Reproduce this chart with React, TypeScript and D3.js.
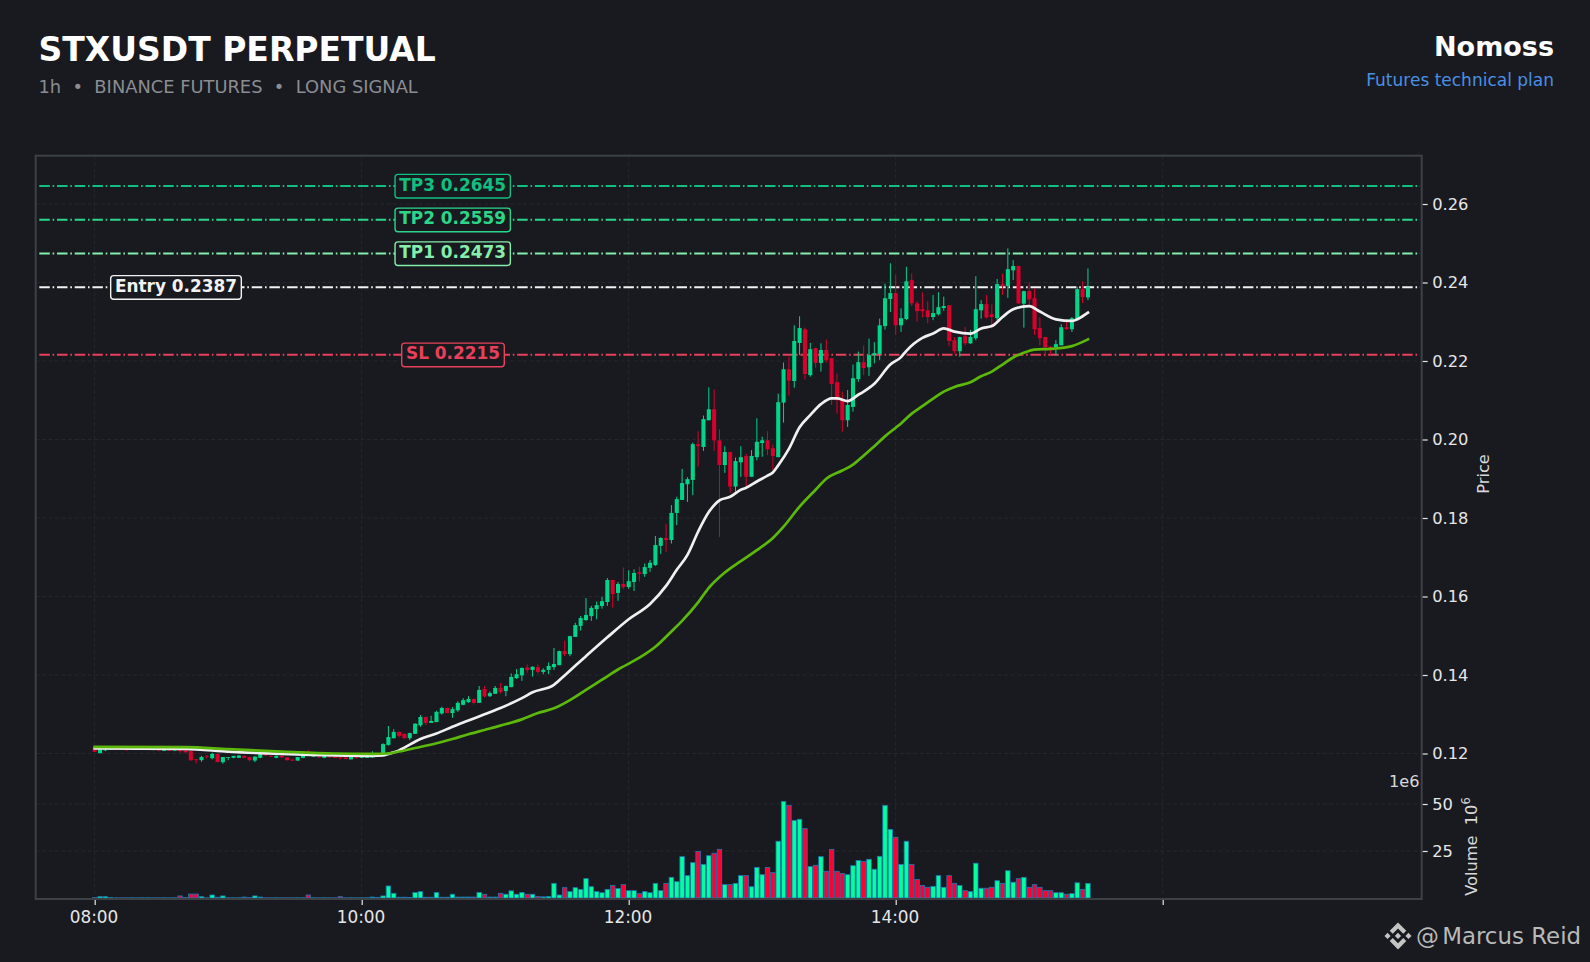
import React, { useEffect, useRef } from 'react';
import * as d3 from 'd3';

// OHLC, one entry per candle
const opens = [
  .1211,.1201,.1208,.1211,.1212,.1211,.1211,.1210,.1211,.1210,.1211,.1212,.1210,.1207,.1211,.1208,.1209,.1208,.1206,.1185,
  .1183,.1194,.1188,.1199,.1178,.1189,.1189,.1189,.1194,.1191,.1182,.1189,.1200,.1194,.1189,.1194,.1190,.1184,.1182,.1189,
  .1198,.1192,.1192,.1189,.1192,.1192,.1190,.1190,.1185,.1190,.1189,.1189,.1190,.1192,.1200,.1222,.1239,.1255,.1250,.1239,
  .1250,.1272,.1293,.1278,.1280,.1302,.1316,.1303,.1310,.1324,.1331,.1339,.1329,.1364,.1346,.1352,.1367,.1359,.1369,.1392,
  .1399,.1419,.1413,.1420,.1408,.1413,.1420,.1425,.1461,.1453,.1497,.1525,.1540,.1550,.1568,.1576,.1586,.1642,.1609,.1632,
  .1624,.1637,.1662,.1657,.1673,.1680,.1729,.1749,.1744,.1813,.1846,.1886,.1897,.1988,.1981,.2049,.2077,.1998,.1935,.1968,
  .1880,.1942,.1958,.1905,.1955,.1991,.1998,.1978,.1955,.2094,.2179,.2149,.2246,.2281,.2164,.2233,.2195,.2228,.2207,.2146,
  .2100,.2049,.2083,.2154,.2197,.2184,.2215,.2218,.2289,.2358,.2373,.2291,.2307,.2406,.2347,.2332,.2329,.2312,.2319,.2335,
  .2342,.2253,.2225,.2263,.2245,.2258,.2329,.2345,.2319,.2309,.2396,.2391,.2431,.2442,.2346,.2378,.2360,.2284,.2261,.2236,
  .2235,.2240,.2286,.2281,.2307,.2383,.2362,
];
const highs = [
  .1212,.1212,.1213,.1213,.1213,.1212,.1212,.1212,.1212,.1212,.1213,.1213,.1211,.1212,.1212,.1212,.1210,.1209,.1207,.1186,
  .1194,.1196,.1202,.1200,.1191,.1191,.1194,.1196,.1195,.1192,.1193,.1201,.1201,.1195,.1195,.1195,.1191,.1187,.1191,.1200,
  .1209,.1200,.1193,.1199,.1193,.1193,.1191,.1191,.1193,.1191,.1193,.1193,.1206,.1195,.1226,.1270,.1262,.1256,.1251,.1253,
  .1277,.1298,.1294,.1296,.1309,.1319,.1317,.1318,.1333,.1341,.1346,.1340,.1372,.1372,.1358,.1372,.1379,.1373,.1404,.1415,
  .1419,.1427,.1422,.1427,.1417,.1432,.1469,.1462,.1487,.1500,.1533,.1550,.1596,.1576,.1587,.1599,.1647,.1643,.1637,.1674,
  .1667,.1669,.1676,.1684,.1693,.1754,.1751,.1785,.1833,.1854,.1925,.1904,.1992,.2021,.2061,.2133,.2128,.2026,.1983,.1969,
  .1954,.1983,.1964,.1973,.2054,.2007,.2021,.1987,.2117,.2196,.2211,.2291,.2314,.2285,.2246,.2234,.2245,.2255,.2208,.2168,
  .2122,.2126,.2191,.2224,.2239,.2257,.2248,.2308,.2397,.2449,.2420,.2334,.2440,.2423,.2353,.2375,.2352,.2368,.2375,.2364,
  .2343,.2261,.2262,.2287,.2279,.2416,.2355,.2368,.2344,.2409,.2423,.2487,.2457,.2443,.2379,.2400,.2385,.2311,.2262,.2238,
  .2253,.2294,.2302,.2312,.2389,.2403,.2436,
];
const lows = [
  .1204,.1200,.1206,.1210,.1210,.1209,.1206,.1209,.1209,.1209,.1210,.1207,.1206,.1206,.1206,.1206,.1202,.1202,.1181,.1175,
  .1179,.1187,.1185,.1178,.1174,.1183,.1188,.1189,.1188,.1180,.1178,.1188,.1195,.1191,.1188,.1189,.1182,.1181,.1181,.1188,
  .1194,.1191,.1189,.1188,.1190,.1189,.1185,.1185,.1185,.1187,.1188,.1189,.1190,.1192,.1200,.1220,.1238,.1241,.1238,.1234,
  .1250,.1268,.1272,.1278,.1280,.1299,.1303,.1291,.1306,.1323,.1329,.1325,.1329,.1343,.1344,.1352,.1353,.1346,.1369,.1390,
  .1385,.1406,.1396,.1404,.1402,.1402,.1413,.1425,.1448,.1448,.1497,.1513,.1538,.1538,.1542,.1569,.1576,.1571,.1589,.1619,
  .1619,.1614,.1638,.1650,.1663,.1678,.1708,.1714,.1735,.1782,.1846,.1841,.1858,.1931,.1971,.2049,.1971,.1752,.1915,.1864,
  .1867,.1905,.1880,.1905,.1947,.1956,.1960,.1922,.1955,.2043,.2112,.2132,.2215,.2153,.2160,.2183,.2173,.2196,.2088,.2066,
  .2020,.2032,.2071,.2147,.2164,.2162,.2194,.2202,.2280,.2325,.2267,.2274,.2304,.2340,.2300,.2311,.2296,.2304,.2316,.2328,
  .2238,.2219,.2211,.2240,.2244,.2253,.2308,.2308,.2283,.2304,.2368,.2361,.2406,.2346,.2285,.2342,.2266,.2240,.2212,.2215,
  .2215,.2240,.2279,.2274,.2306,.2347,.2355,
];
const closes = [
  .1204,.1211,.1210,.1212,.1211,.1209,.1209,.1211,.1210,.1211,.1212,.1210,.1209,.1211,.1207,.1211,.1206,.1203,.1183,.1183,
  .1191,.1192,.1199,.1178,.1191,.1191,.1194,.1195,.1189,.1183,.1192,.1200,.1195,.1192,.1194,.1190,.1183,.1182,.1191,.1199,
  .1195,.1199,.1190,.1199,.1190,.1189,.1188,.1186,.1192,.1188,.1192,.1192,.1194,.1194,.1224,.1242,.1255,.1245,.1239,.1252,
  .1276,.1293,.1278,.1283,.1306,.1316,.1303,.1313,.1329,.1336,.1339,.1329,.1362,.1346,.1354,.1367,.1357,.1372,.1395,.1402,
  .1418,.1413,.1421,.1408,.1413,.1423,.1428,.1461,.1453,.1499,.1527,.1545,.1553,.1571,.1578,.1588,.1642,.1606,.1632,.1624,
  .1639,.1660,.1658,.1675,.1686,.1731,.1749,.1744,.1813,.1848,.1889,.1899,.1988,.1983,.2052,.2077,.1998,.1935,.1968,.1880,
  .1945,.1955,.1905,.1958,.1994,.1998,.1975,.1958,.2095,.2179,.2150,.2251,.2284,.2167,.2230,.2195,.2228,.2202,.2141,.2100,
  .2049,.2088,.2156,.2197,.2182,.2215,.2220,.2291,.2360,.2373,.2291,.2309,.2403,.2347,.2327,.2327,.2312,.2322,.2337,.2340,
  .2251,.2225,.2261,.2245,.2261,.2332,.2345,.2311,.2312,.2396,.2391,.2434,.2442,.2347,.2378,.2357,.2281,.2258,.2235,.2233,
  .2243,.2286,.2281,.2309,.2383,.2363,.2389,
];
// volume in millions, same order as the candles
const volumes = [
  .2,.7,.7,.2,.1,.1,.1,.1,.1,.1,.1,.1,.1,.1,.1,.1,1.1,.2,2.1,2.1,
  .7,.1,1.6,.4,1.1,.1,.1,.1,.5,.2,1.1,.5,.1,.1,.1,.1,.1,.1,.1,.1,
  1.6,.1,.1,.1,.1,.1,.7,.1,.1,.1,.1,.1,.5,.2,1.1,6.4,2.5,.4,.4,.3,
  2.9,3.4,.4,.4,2.9,.4,.4,2,.5,.5,.5,.5,2.9,2,.5,.5,2.5,2,3.8,2,
  2.9,2,2,.8,.6,.8,7.8,1.6,5.5,3.4,5.5,4.6,10.3,6,3.4,2.8,4.6,6.7,5,7.1,
  3.9,3.9,2.3,3.4,2.8,7.8,3.9,7.8,11,8.7,22,11.9,18.8,24.8,17.9,22.5,23.8,25.9,7.1,7.1,
  7.8,11.9,11.9,6,16.3,12.4,16.3,13.5,30.2,51.4,49.3,41.3,41.9,36.9,16.7,17.4,22,14.2,25.9,14.2,
  13.1,12.4,17.2,20,19.5,20.6,15.3,22.2,49.3,36.5,32.3,17.9,30.2,17.9,9.9,6.7,5.7,6.2,11.9,5.7,
  11.9,7.8,6.7,3.9,3.4,18.5,5.2,5.2,5.7,9.2,7.8,14.5,8.4,10.3,11,5.7,7.1,5.7,3.9,3.9,
  2.8,2.8,2,2.3,8.1,4.6,7.8,
];

// the two moving averages, read at these candle numbers
const whiteIdx = [0,17,25,35,45,52,54,55,57,58,61,64,67,70,73,76,80,82,86,88,92,96,100,104,107,109,111,113,115,117,119,121,122,124,126,127,128,130,132,134,136,138,139,141,143,144,146,149,151,152,155,157,159,161,164,166,168,170,172,175,177,180,183,185,186];
const whiteMa = [.1213,.1212,.1205,.1199,.1195,.1194,.1195,.1199,.1208,.1215,.1237,.1251,.1268,.1284,.13,.1316,.1341,.1356,.1375,.1399,.1448,.1496,.1542,.1581,.1627,.1668,.1706,.1765,.1815,.1845,.1854,.1872,.1877,.1893,.1908,.1916,.1934,.1976,.2031,.2062,.209,.2105,.2105,.2098,.2114,.2122,.2142,.2191,.221,.2226,.2259,.227,.2283,.2275,.227,.2283,.2289,.2312,.2332,.234,.2326,.2306,.2302,.2314,.2323];
const greenIdx = [0,17,25,35,45,52,55,57,60,64,67,70,73,76,80,83,86,89,92,95,98,102,105,108,110,113,115,118,121,124,127,129,132,135,137,140,142,143,146,148,150,151,153,155,157,159,161,164,166,168,170,172,174,176,179,183,186];
const greenMa = [.1217,.1216,.1211,.1205,.12,.1199,.12,.1205,.1214,.1226,.1237,.1249,.126,.1271,.1287,.1303,.1315,.1336,.1362,.1388,.1414,.1444,.1472,.1511,.1538,.1585,.1622,.1661,.169,.1718,.1749,.1778,.1829,.1872,.19,.1921,.1936,.1947,.1983,.2008,.203,.2041,.2066,.2085,.2104,.2122,.2134,.2146,.2161,.2173,.2191,.2209,.2221,.2229,.2231,.2238,.2255];

const priceTicks = [0.12, 0.14, 0.16, 0.18, 0.20, 0.22, 0.24, 0.26];
const volumeTicks = [25, 50];
const timeTicks = [0, 50, 100, 150, 200];
const timeLabels = ['08:00', '10:00', '12:00', '14:00', ''];

const levelNames = ['TP3', 'TP2', 'TP1', 'Entry', 'SL'];
const levelPrices = [0.2645, 0.2559, 0.2473, 0.2387, 0.2215];
const levelColors = ['#10c07f', '#2bd68a', '#84eeab', '#f2f2f2', '#e8405a'];
const levelLabelX = [452.7, 452.7, 452.7, 176, 453];

const BG = '#181a20';
const FONT = '"DejaVu Sans", sans-serif';
const LOGO = 'M38.73 53.2l24.59-24.58 24.6 24.6 14.3-14.31L63.32 0 24.42 38.9l14.31 14.3zM0 63.31l14.3-14.31 14.31 14.31-14.31 14.3L0 63.31zm38.73 10.11l24.59 24.59 24.6-24.6 14.31 14.29-38.9 38.91-38.91-38.88-.02-.02 14.33-14.29zM98.01 63.31l14.3-14.3 14.3 14.3-14.3 14.3-14.3-14.3zM77.83 63.3h.01L63.32 48.78 52.59 59.51l-1.23 1.23-2.54 2.54-.02.02.02.03 14.5 14.5 14.51-14.52.01-.01z';

const App: React.FC = () => {
  const ref = useRef<SVGSVGElement>(null);

  useEffect(() => {
    if (!ref.current) return;
    const svg = d3.select(ref.current);
    svg.selectAll('*').remove();

    const frame = { left: 35.7, right: 1421.7, top: 155.7, bottom: 899 };
    const x = d3.scaleLinear().domain([0, 200]).range([94.7, 1162.7]);
    const y = d3.scaleLinear().domain([0.12, 0.26]).range([753.5, 204]);
    const yVol = d3.scaleLinear().domain([0, 50]).range([898, 804]);
    const step = x(1) - x(0);

    svg.append('rect').attr('width', 1590).attr('height', 962).attr('fill', BG);

    // header
    const header = svg.append('g').attr('font-family', FONT);
    header.append('text').attr('x', 38.5).attr('y', 61).attr('font-size', 33).attr('font-weight', 700)
      .attr('fill', '#ffffff').text('STXUSDT PERPETUAL');
    header.append('text').attr('x', 38.5).attr('y', 92.5).attr('font-size', 17.85).attr('fill', '#8b8d92')
      .style('white-space', 'pre').text('1h  •  BINANCE FUTURES  •  LONG SIGNAL');
    header.append('text').attr('x', 1554).attr('y', 55.5).attr('text-anchor', 'end').attr('font-size', 27)
      .attr('font-weight', 700).attr('fill', '#ffffff').text('Nomoss');
    header.append('text').attr('x', 1554).attr('y', 86).attr('text-anchor', 'end').attr('font-size', 17)
      .attr('fill', '#4a90e2').text('Futures technical plan');

    // grid
    const grid = svg.append('g').attr('stroke', '#ffffff').attr('stroke-opacity', 0.06)
      .attr('stroke-dasharray', '4,2.5').attr('stroke-width', 1);
    priceTicks.forEach(t => {
      grid.append('line').attr('x1', frame.left).attr('x2', frame.right).attr('y1', y(t)).attr('y2', y(t));
    });
    volumeTicks.forEach(t => {
      grid.append('line').attr('x1', frame.left).attr('x2', frame.right).attr('y1', yVol(t)).attr('y2', yVol(t));
    });
    timeTicks.forEach(t => {
      grid.append('line').attr('x1', x(t)).attr('x2', x(t)).attr('y1', frame.top).attr('y2', frame.bottom);
    });

    // volume bars
    svg.append('g').selectAll('rect').data(volumes).enter().append('rect')
      .attr('x', (_, i) => x(i) - step * 0.42)
      .attr('width', step * 0.84)
      .attr('y', d => yVol(d))
      .attr('height', d => yVol(0) - yVol(d))
      .attr('fill', (_, i) => (closes[i] >= opens[i] ? '#00ff9d' : '#ff0033'))
      .attr('stroke', '#1f77b4')
      .attr('stroke-width', 0.8);

    // level lines
    svg.append('g').selectAll('line').data(levelPrices).enter().append('line')
      .attr('x1', 39.3).attr('x2', 1420)
      .attr('y1', d => y(d) - 0.3).attr('y2', d => y(d) - 0.3)
      .attr('stroke', (_, i) => levelColors[i])
      .attr('stroke-width', 2)
      .attr('stroke-dasharray', '10.5,2.8,1.6,2.8');

    // candles
    const candles = svg.append('g').selectAll('g').data(opens).enter().append('g');
    const colorOf = (i: number) => (closes[i] >= opens[i] ? '#00d68a' : '#d8002c');
    candles.append('line')
      .attr('x1', (_, i) => x(i)).attr('x2', (_, i) => x(i))
      .attr('y1', (_, i) => y(highs[i])).attr('y2', (_, i) => y(lows[i]))
      .attr('stroke', (_, i) => colorOf(i)).attr('stroke-width', 1);
    candles.append('rect')
      .attr('x', (_, i) => x(i) - step * 0.38)
      .attr('width', step * 0.76)
      .attr('y', (_, i) => y(Math.max(opens[i], closes[i])))
      .attr('height', (_, i) => Math.max(0.8, Math.abs(y(opens[i]) - y(closes[i]))))
      .attr('fill', (_, i) => colorOf(i));

    // moving averages
    const maLine = d3.line<number>().curve(d3.curveMonotoneX);
    const drawMa = (idx: number[], vals: number[], color: string) => {
      const pts = idx.map((d, i) => [x(d), y(vals[i])]) as any;
      svg.append('path').attr('d', maLine(pts)).attr('fill', 'none')
        .attr('stroke', color).attr('stroke-width', 2.7).attr('stroke-linecap', 'square');
    };
    drawMa(whiteIdx, whiteMa, '#f0f0f0');
    drawMa(greenIdx, greenMa, '#5cb80a');

    // labels on the level lines
    const labels = svg.append('g').attr('font-family', FONT).attr('font-size', 16.9).attr('font-weight', 700);
    levelPrices.forEach((p, i) => {
      const g = labels.append('g');
      const box = g.append('rect');
      const txt = g.append('text').attr('x', levelLabelX[i]).attr('y', y(p) + 4.2)
        .attr('text-anchor', 'middle').attr('fill', levelColors[i])
        .text(`${levelNames[i]} ${p.toFixed(4)}`);
      const w = (txt.node() as SVGTextElement).getComputedTextLength();
      box.attr('x', levelLabelX[i] - w / 2 - 4.3).attr('width', w + 8.6)
        .attr('y', y(p) - 12).attr('height', 23.6).attr('rx', 3)
        .attr('fill', BG).attr('stroke', levelColors[i]).attr('stroke-width', 1.4);
    });

    // frame
    svg.append('rect').attr('x', frame.left).attr('y', frame.top)
      .attr('width', frame.right - frame.left).attr('height', frame.bottom - frame.top)
      .attr('fill', 'none').attr('stroke', '#3c4146').attr('stroke-width', 2);

    // axes
    const styleAxis = (g: any, size: number) => {
      g.select('.domain').remove();
      g.selectAll('line').attr('stroke', '#e6e6e6').attr('stroke-width', 1.2);
      g.selectAll('text').attr('fill', '#e6e6e6').attr('font-size', size).attr('font-family', FONT);
    };
    svg.append('g').attr('transform', `translate(${frame.right + 1},0)`)
      .call(d3.axisRight(y).tickValues(priceTicks).tickSize(5).tickPadding(4.5).tickFormat(d => d3.format('.2f')(d as number)))
      .call(styleAxis, 16.3);
    svg.append('g').attr('transform', `translate(${frame.right + 1},0)`)
      .call(d3.axisRight(yVol).tickValues(volumeTicks).tickSize(5).tickPadding(4.5))
      .call(styleAxis, 16.3);
    svg.append('g').attr('transform', `translate(0,${frame.bottom + 1})`)
      .call(d3.axisBottom(x).tickValues(timeTicks).tickSize(5).tickPadding(6).tickFormat((_, i) => timeLabels[i]))
      .call(styleAxis, 16.9)
      .selectAll('text').attr('dx', -1.2);

    // axis captions
    const cap = svg.append('g').attr('font-family', FONT).attr('fill', '#d8d8d8').attr('font-size', 16.2);
    cap.append('text').attr('x', 1419.5).attr('y', 786.7).attr('text-anchor', 'end').text('1e6');
    cap.append('text').attr('transform', 'translate(1489,474) rotate(-90)').attr('text-anchor', 'middle').text('Price');
    const volCap = cap.append('text').attr('transform', 'translate(1476.7,895.7) rotate(-90)')
      .style('white-space', 'pre');
    volCap.append('tspan').text('Volume  10');
    volCap.append('tspan').attr('dy', -7).attr('font-size', 11.5).text('6');

    // watermark
    const mark = svg.append('g').attr('font-family', FONT).attr('font-size', 22.9).attr('fill', '#b9b9b9');
    mark.append('path').attr('d', LOGO).attr('fill', '#c4c4c4')
      .attr('transform', 'translate(1384.5,922.4) scale(0.2133)');
    mark.append('text').attr('x', 1416).attr('y', 944.3).text('@');
    mark.append('text').attr('x', 1442.2).attr('y', 944.3).text('Marcus Reid');
  }, []);

  return (
    <svg ref={ref} width={1590} height={962}
      style={{ position: 'absolute', left: 0, top: 0, display: 'block' }} />
  );
};

export default App;
